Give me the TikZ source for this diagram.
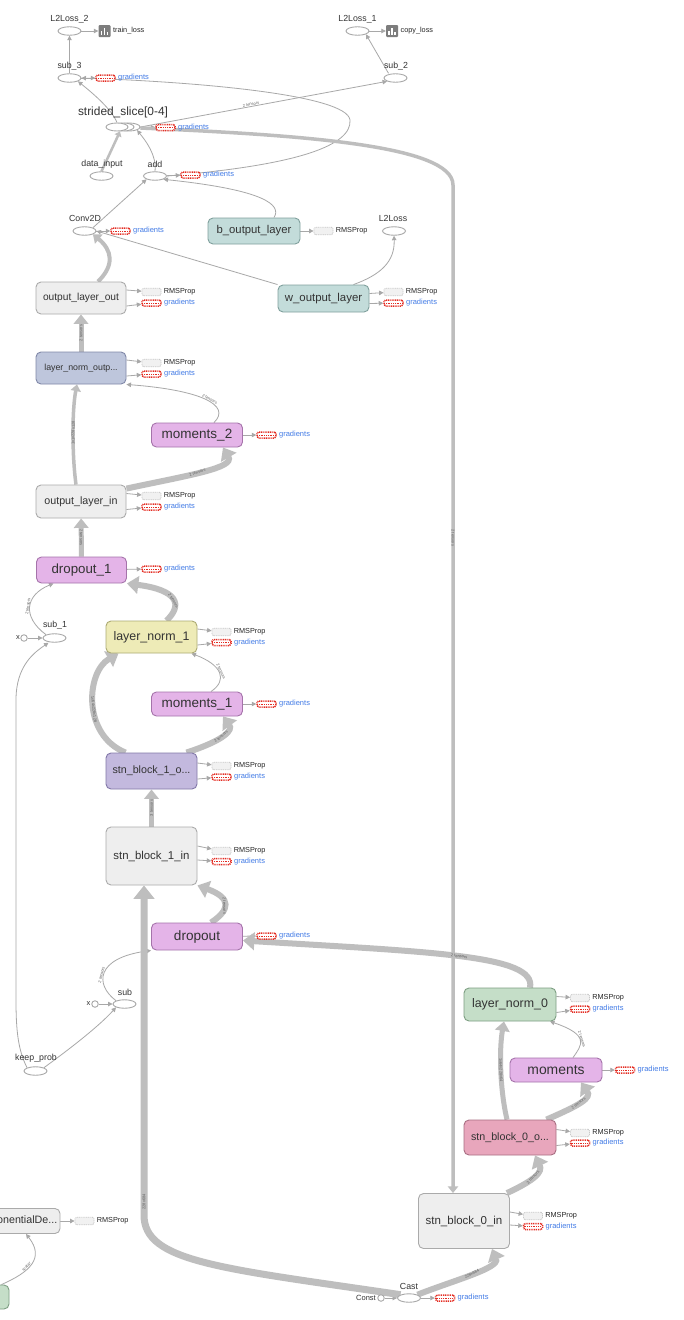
\documentclass[tikz,border=0pt]{standalone}
\usepackage{fontspec}
\setmainfont{Liberation Sans}
\usetikzlibrary{shapes.geometric,arrows.meta,calc}
\pgfdeclarelayer{back}
\pgfdeclarelayer{bg}
\pgfsetlayers{back,bg,main}
\definecolor{edgec}{RGB}{190,190,190}
\definecolor{thinc}{RGB}{168,168,168}
\definecolor{txtc}{RGB}{51,51,51}
\definecolor{gblue}{RGB}{66,123,230}
\definecolor{elabc}{RGB}{95,95,95}
\definecolor{iconc}{RGB}{125,125,125}
\definecolor{rdraw}{RGB}{200,200,200}
\definecolor{rfill}{RGB}{241,241,241}
\definecolor{gfill}{RGB}{238,238,238}\definecolor{gdraw}{RGB}{170,170,170}
\definecolor{tealf}{RGB}{195,220,218}\definecolor{teald}{RGB}{128,160,157}
\definecolor{bluef}{RGB}{190,198,220}\definecolor{blued}{RGB}{128,136,168}
\definecolor{vf}{RGB}{228,180,232}\definecolor{vd}{RGB}{165,115,170}
\definecolor{yf}{RGB}{238,235,183}\definecolor{yd}{RGB}{172,170,115}
\definecolor{lf}{RGB}{195,185,222}\definecolor{ld}{RGB}{130,120,168}
\definecolor{grf}{RGB}{197,222,200}\definecolor{grd}{RGB}{125,158,130}
\definecolor{pf}{RGB}{232,166,188}\definecolor{pd}{RGB}{168,110,130}
\definecolor{gradred}{RGB}{228,45,35}
\tikzset{
 op/.style={ellipse, draw=thinc, fill=white, line width=0.9pt, minimum width=23pt, minimum height=8.5pt, inner sep=0pt},
 xop/.style={circle, draw=thinc, fill=white, line width=0.9pt, minimum size=6.5pt, inner sep=0pt},
 oplbl/.style={font=\fontsize{8.8}{10}\selectfont, text=txtc, inner sep=0pt},
 grp/.style={rectangle, rounded corners=5pt, line width=0.9pt, text=txtc, inner sep=0pt},
 graygrp/.style={grp, fill=gfill, draw=gdraw},
 tealgrp/.style={grp, fill=tealf, draw=teald},
 bluegrp/.style={grp, fill=bluef, draw=blued},
 vgrp/.style={grp, fill=vf, draw=vd},
 ygrp/.style={grp, fill=yf, draw=yd},
 lgrp/.style={grp, fill=lf, draw=ld},
 greengrp/.style={grp, fill=grf, draw=grd},
 pgrp/.style={grp, fill=pf, draw=pd},
 thinedge/.style={draw=thinc, line width=0.8pt, -{Triangle[length=4.5pt,width=4.5pt]}},
 fat/.style={draw=edgec, line width=#1, -{Triangle[length=0pt 1.9,width=0pt 2.9]}},
 fat/.default=5pt,
 elab/.style={font=\fontsize{4}{4}\selectfont, text=elabc, sloped, inner sep=0.4pt},
 gbox/.style={rectangle, draw=gradred, fill=white, dash pattern=on 1pt off 0.8pt, line width=1.5pt, minimum width=19pt, minimum height=6pt, inner sep=0pt, rounded corners=1.5pt,
   path picture={\draw[gradred, line width=0.9pt, dash pattern=on 1pt off 0.8pt] (path picture bounding box.west) -- (path picture bounding box.east);}},
 rbox/.style={rectangle, draw=rdraw, fill=rfill, dash pattern=on 1pt off 0.8pt, line width=0.8pt, minimum width=19pt, minimum height=7.5pt, inner sep=0pt, rounded corners=1.5pt},
 gtxt/.style={anchor=west, font=\fontsize{7.5}{9}\selectfont, text=gblue, inner sep=0pt, xshift=2.2pt},
 rtxt/.style={anchor=west, font=\fontsize{7.3}{9}\selectfont, text=black!85, inner sep=0pt, xshift=2.2pt},
 sumicon/.style={rectangle, fill=iconc, minimum size=12pt, inner sep=0pt, rounded corners=1pt},
}
\newcommand{\Grad}[3]{\node[gbox] (#1) at (#2,#3) {}; \node[gtxt] at (#1.east) {gradients};}
\newcommand{\Rms}[3]{\node[rbox] (#1) at (#2,#3) {}; \node[rtxt] at (#1.east) {RMSProp};}
\newcommand{\Bars}[1]{%
 \fill[white] ($(#1.center)+(-3.7,3.6)$) rectangle ($(#1.center)+(-2.1,-0.5)$);
 \fill[white] ($(#1.center)+(-0.8,3.6)$) rectangle ($(#1.center)+(0.8,-3.4)$);
 \fill[white] ($(#1.center)+(2.1,3.6)$) rectangle ($(#1.center)+(3.7,1.0)$);}
\begin{document}
\begin{tikzpicture}[x=1pt,y=-1pt]
\useasboundingbox (0,0) rectangle (684,1320);
\begin{pgfonlayer}{back}
\fill[white] (0,0) rectangle (684,1320);
\end{pgfonlayer}

% ---------- nodes ----------
\node[op] (l2b) at (69.5,31) {}; \node[oplbl] at (69.5,19) {L2Loss\_2};
\node[sumicon] (tl) at (104.5,31) {}; \Bars{tl}
\node[rtxt] at (tl.east) {train\_loss};
\node[op] (l2a) at (357.5,31) {}; \node[oplbl] at (357.5,19) {L2Loss\_1};
\node[sumicon] (cl) at (392,31) {}; \Bars{cl}
\node[rtxt] at (cl.east) {copy\_loss};
\node[op] (s3) at (69.5,78) {}; \node[oplbl] at (69.5,66) {sub\_3};
\Grad{s3g}{105.5}{78}
\node[op] (s2) at (395.5,78) {}; \node[oplbl] at (396,66) {sub\_2};
\node[op, minimum width=22pt, minimum height=8pt] (ss3) at (129,127) {};
\node[op, minimum width=22pt, minimum height=8pt] (ss2) at (123,127) {};
\node[op, minimum width=22pt, minimum height=8pt] (ss1) at (117,127) {};
\node[oplbl, font=\fontsize{11.9}{13}\selectfont] at (123,112) {strided\_slice[0-4]};
\Grad{ssg}{165.5}{127.5}
\node[op] (din) at (101.5,176) {}; \node[oplbl] at (102,164) {data\_input};
\node[op] (add) at (155,176) {}; \node[oplbl] at (155,164) {add};
\Grad{addg}{190.5}{175}
\node[op] (cv) at (84.5,231) {}; \node[oplbl] at (85,218) {Conv2D};
\Grad{cvg}{120.5}{231}
\node[tealgrp, minimum width=92pt, minimum height=26pt, font=\fontsize{11.3}{13}\selectfont] (bol) at (254,231) {b\_output\_layer};
\Rms{bolr}{323.5}{231}
\node[op] (l2) at (394,231) {}; \node[oplbl] at (393,218) {L2Loss};
\node[tealgrp, minimum width=91pt, minimum height=27pt, font=\fontsize{11.4}{13}\selectfont] (wol) at (323.5,298.5) {w\_output\_layer};
\Rms{wolr}{393.5}{292} \Grad{wolg}{393.5}{303}
\node[graygrp, minimum width=90pt, minimum height=32pt, font=\fontsize{10.2}{12}\selectfont] (olo) at (81,298) {output\_layer\_out};
\Rms{olor}{151.5}{292} \Grad{olog}{151.5}{303}
\node[bluegrp, minimum width=90pt, minimum height=32pt, font=\fontsize{8.8}{10}\selectfont] (lno) at (81,368) {layer\_norm\_outp...};
\Rms{lnor}{151.5}{363} \Grad{lnog}{151.5}{374}
\node[vgrp, minimum width=91pt, minimum height=24pt, font=\fontsize{13.5}{15}\selectfont] (m2) at (197,435) {moments\_2};
\Grad{m2g}{266.5}{435}
\node[graygrp, minimum width=90pt, minimum height=33pt, font=\fontsize{10.7}{12}\selectfont] (oli) at (81,501.5) {output\_layer\_in};
\Rms{olir}{151.5}{496} \Grad{olig}{151.5}{507}
\node[vgrp, minimum width=90pt, minimum height=26pt, font=\fontsize{13.3}{15}\selectfont] (d1) at (81.5,570) {dropout\_1};
\Grad{d1g}{151.5}{569}
\node[op] (s1op) at (54.5,638) {}; \node[oplbl] at (55,625) {sub\_1};
\node[xop] (x1) at (24,638) {}; \node[oplbl, anchor=east, font=\fontsize{7.5}{9}\selectfont] at (20,638) {x};
\node[ygrp, minimum width=91pt, minimum height=32pt, font=\fontsize{12.4}{14}\selectfont] (ln1) at (151.5,637) {layer\_norm\_1};
\Rms{ln1r}{221.5}{632} \Grad{ln1g}{221.5}{642.5}
\node[vgrp, minimum width=91pt, minimum height=24pt, font=\fontsize{13.5}{15}\selectfont] (m1) at (197,704) {moments\_1};
\Grad{m1g}{266.5}{704}
\node[lgrp, minimum width=91pt, minimum height=36pt, font=\fontsize{10.7}{12}\selectfont] (s1o) at (151.5,771) {stn\_block\_1\_o...};
\Rms{s1or}{221.5}{766} \Grad{s1og}{221.5}{777}
\node[graygrp, minimum width=91pt, minimum height=58pt, font=\fontsize{11.4}{13}\selectfont] (s1in) at (151.5,856) {stn\_block\_1\_in};
\Rms{s1inr}{221.5}{851} \Grad{s1ing}{221.5}{861.5}
\node[vgrp, minimum width=91pt, minimum height=27pt, font=\fontsize{13.6}{15}\selectfont] (dr) at (197,936.5) {dropout};
\Grad{drg}{266.5}{936}
\node[op] (subop) at (124.5,1004) {}; \node[oplbl] at (125,992) {sub};
\node[xop] (x2) at (95,1004) {}; \node[oplbl, anchor=east, font=\fontsize{7.5}{9}\selectfont] at (90.5,1004) {x};
\node[op] (kp) at (35.5,1071) {}; \node[oplbl] at (36,1058) {keep\_prob};
\node[greengrp, minimum width=92pt, minimum height=33pt, font=\fontsize{12.4}{14}\selectfont] (ln0) at (510,1004.5) {layer\_norm\_0};
\Rms{ln0r}{580}{998} \Grad{ln0g}{580}{1009}
\node[vgrp, minimum width=92pt, minimum height=24pt, font=\fontsize{13.9}{15}\selectfont] (mom) at (556,1070) {moments};
\Grad{momg}{625}{1070}
\node[pgrp, minimum width=92pt, minimum height=35pt, font=\fontsize{10.7}{12}\selectfont] (s0o) at (510,1137.5) {stn\_block\_0\_o...};
\Rms{s0or}{580}{1133} \Grad{s0og}{580}{1143}
\node[graygrp, minimum width=91pt, minimum height=55pt, font=\fontsize{11.5}{13}\selectfont] (s0in) at (464,1221) {stn\_block\_0\_in};
\Rms{s0inr}{533}{1216} \Grad{s0ing}{533}{1226.5}
\node[graygrp, minimum width=84pt, minimum height=25pt, font=\fontsize{10.7}{12}\selectfont] (exp) at (18,1221) {ExponentialDe...};
\Rms{expr}{84.5}{1221}
\node[greengrp, minimum width=69pt, minimum height=24pt] (gn) at (-25.5,1297) {};
\node[op] (cast) at (409,1298) {}; \node[oplbl] at (409,1286) {Cast};
\node[xop] (const) at (381,1298) {}; \node[oplbl, anchor=east, font=\fontsize{7.5}{9}\selectfont] at (376,1298) {Const};
\Grad{castg}{445}{1298}

% ---------- connectors ----------
\begin{pgfonlayer}{bg}
\draw[thinedge] (l2b) -- (tl);
\draw[thinedge] (l2a) -- (cl);
\draw[thinedge] (s3) -- (l2b);
\draw[thinedge] (s3) -- (s3g);
\draw[thinedge] ([xshift=-7]s2.north) -- (l2a.south east);
\draw[thinedge] (ss3) -- (ssg);
\draw[thinedge] (add) -- (addg);
\draw[thinedge] (cv) -- (cvg);
\draw[thinedge] (bol) -- (bolr);
\draw[thinedge] ([yshift=5]wol.east) -- (wolr);
\draw[thinedge] ([yshift=-5]wol.east) -- (wolg);
\draw[thinedge] ([yshift=8]olo.east) -- (olor);
\draw[thinedge] ([yshift=-8]olo.east) -- (olog);
\draw[thinedge] ([yshift=8]lno.east) -- (lnor);
\draw[thinedge] ([yshift=-8]lno.east) -- (lnog);
\draw[thinedge] (m2) -- (m2g);
\draw[thinedge] ([yshift=8]oli.east) -- (olir);
\draw[thinedge] ([yshift=-8]oli.east) -- (olig);
\draw[thinedge] (d1) -- (d1g);
\draw[thinedge] ([yshift=8]ln1.east) -- (ln1r);
\draw[thinedge] ([yshift=-8]ln1.east) -- (ln1g);
\draw[thinedge] (m1) -- (m1g);
\draw[thinedge] ([yshift=8]s1o.east) -- (s1or);
\draw[thinedge] ([yshift=-8]s1o.east) -- (s1og);
\draw[thinedge] ([yshift=10]s1in.east) -- (s1inr);
\draw[thinedge] ([yshift=-4]s1in.east) -- (s1ing);
\draw[thinedge] (dr) -- (drg);
\draw[thinedge] ([yshift=8]ln0.east) -- (ln0r);
\draw[thinedge] ([yshift=-8]ln0.east) -- (ln0g);
\draw[thinedge] (mom) -- (momg);
\draw[thinedge] ([yshift=8]s0o.east) -- (s0or);
\draw[thinedge] ([yshift=-8]s0o.east) -- (s0og);
\draw[thinedge] ([yshift=9]s0in.east) -- (s0inr);
\draw[thinedge] ([yshift=-4]s0in.east) -- (s0ing);
\draw[thinedge] (exp) -- (expr);
\draw[thinedge] (const) -- (cast);
\draw[thinedge] (cast) -- (castg);
\draw[thinedge] (x1) -- (s1op);
\draw[thinedge] (x2) -- (subop);

% top region
\draw[fat=2.5pt] (din.north) -- ([xshift=3]ss1.south);
\draw[thinedge] (add.north) .. controls (157,155) and (145,140) .. (ss3.south east);
\draw[thinedge] (ss1.north) .. controls (112,110) and (95,95) .. (s3.south east);
\draw[thinedge] (ss3.east) -- (s2.south west) node[elab, pos=0.45, above] {2 tensors};
\draw[thinedge] (add.east) .. controls (300,165) and (352,145) .. (350,120) .. controls (347,95) and (200,82) .. (s3.east);
\draw[fat=3.5pt] ([yshift=-1]ss3.east) .. controls (300,135) and (453,145) .. (453,185) -- ([xshift=-11]s0in.north) node[elab, pos=0.35] {2 tensors};
\draw[thinedge] (cv.north east) -- (add.south west);
\draw[thinedge] ([xshift=20]bol.north) .. controls (282,205) and (265,190) .. (add.south east);
\draw[thinedge] (wol.north west) -- (cv.east);
\draw[thinedge] ([xshift=30]wol.north) .. controls (380,275) and (395,262) .. (l2.south);
\draw[fat=4pt] ([xshift=17]olo.north) .. controls (115,265) and (112,250) .. (cv.south east);
\draw[fat=5pt] (lno) -- (olo) node[elab, midway] {2 tensors};
\draw[thinedge] ([xshift=17]m2.north) .. controls (232,405) and (200,390) .. (lno.south east) node[elab, pos=0.45, above] {2 tensors};
\draw[fat=3.5pt] ([xshift=-5]oli.north) .. controls (72,455) and (72,410) .. ([xshift=-4]lno.south) node[elab, midway] {1x1x228x128};
\draw[fat=6pt] ([yshift=-4]oli.north east) .. controls (190,475) and (235,468) .. ([xshift=26]m2.south) node[elab, pos=0.45] {2 tensors};
\draw[fat=5pt] (d1) -- (oli) node[elab, midway] {2 tensors};
\draw[thinedge] (s1op.north west) .. controls (22,617) and (25,595) .. ([xshift=-28]d1.south) node[elab, pos=0.5, above] {2 tensors};
\draw[fat=6pt] ([xshift=15]ln1.north) .. controls (183,605) and (178,590) .. (d1.south east) node[elab, pos=0.45] {2 tensors};
\draw[thinedge] ([xshift=14]m1.north) .. controls (228,680) and (222,665) .. ([xshift=40]ln1.south) node[elab, pos=0.5, above] {2 tensors};
\draw[fat=6pt] ([xshift=-26]s1o.north) .. controls (82,735) and (86,672) .. ([xshift=-33]ln1.south) node[elab, pos=0.45] {1x64x228x128};
\draw[fat=6pt] ([xshift=35]s1o.north) .. controls (225,740) and (233,730) .. ([xshift=26]m1.south) node[elab, pos=0.45] {2 tensors};
\draw[fat=5pt] (s1in) -- (s1o) node[elab, midway] {3 tensors};
\draw[fat=6pt] ([xshift=14]dr.north) .. controls (230,910) and (232,898) .. (s1in.south east) node[elab, pos=0.45] {2 tensors};
\draw[thinedge] (subop.north west) .. controls (95,985) and (95,958) .. (dr.south west) node[elab, pos=0.45, above] {2 tensors};
\draw[thinedge] (kp.north east) .. controls (75,1045) and (100,1025) .. (subop.south west);
\draw[thinedge] (kp.north west) .. controls (18,1050) and (16,1030) .. (16,1000) -- (16,700) .. controls (16,665) and (35,652) .. ([xshift=-6]s1op.south);
% lower right
\draw[fat=6pt] ([xshift=20]ln0.north) .. controls (537,955) and (430,952) .. ([yshift=-4]dr.east) node[elab, pos=0.5] {2 tensors};
\draw[fat=5pt] ([xshift=-3]s0o.north) .. controls (500,1090) and (499,1050) .. ([xshift=-6]ln0.south) node[elab, pos=0.5] {1x64x228x64};
\draw[fat=6pt] ([xshift=-10]s0o.north east) .. controls (580,1105) and (592,1098) .. ([xshift=25]mom.south) node[elab, pos=0.45] {2 tensors};
\draw[thinedge] ([xshift=17]mom.north) .. controls (582,1045) and (590,1035) .. ([xshift=40]ln0.south) node[elab, pos=0.5, above] {2 tensors};
\draw[fat=6pt] ([xshift=-3]s0in.north east) .. controls (535,1180) and (543,1172) .. ([xshift=25]s0o.south) node[elab, pos=0.45] {3 tensors};
\draw[fat=6pt] (cast.north east) .. controls (455,1280) and (500,1268) .. ([xshift=28]s0in.south) node[elab, pos=0.5] {228x684};
\draw[fat=7pt] (cast.north west) .. controls (220,1268) and (144,1262) .. (144,1215) -- ([xshift=-7.5]s1in.south) node[elab, pos=0.04] {228x684};
\draw[thinedge] ([xshift=-8]gn.north east) .. controls (30,1272) and (45,1258) .. ([xshift=8]exp.south) node[elab, pos=0.4, above] {scalar};
\end{pgfonlayer}
\end{tikzpicture}
\end{document}
